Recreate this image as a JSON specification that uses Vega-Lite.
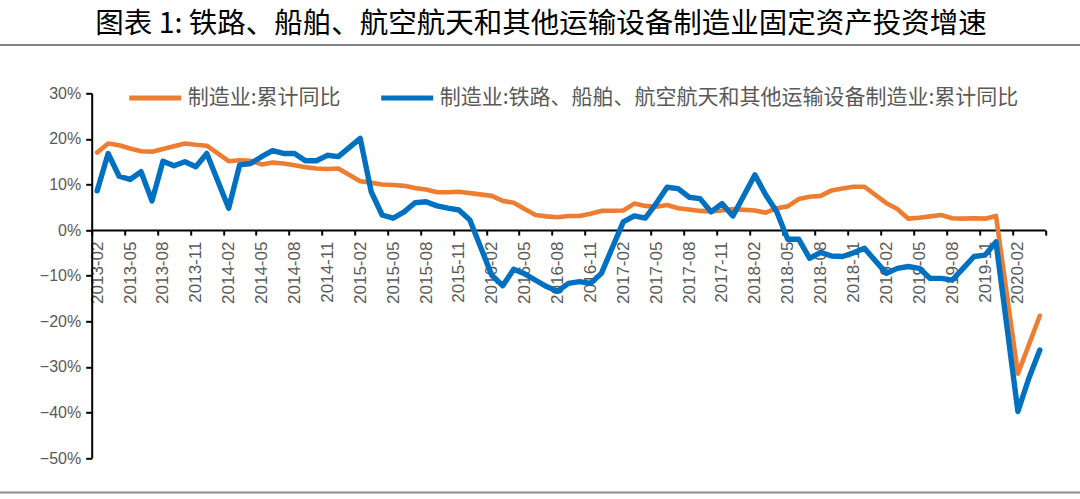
{
  "$schema": "https://vega.github.io/schema/vega-lite/v6.json",
  "width": 953.6,
  "height": 364.7,
  "autosize": "none",
  "padding": {"left": 91.7, "top": 93.3, "right": 34.7, "bottom": 41},
  "background": "#ffffff",
  "title": {
    "text": "图表 1: 铁路、船舶、航空航天和其他运输设备制造业固定资产投资增速",
    "font": "Noto Sans CJK SC",
    "fontSize": 28.5,
    "fontWeight": 400,
    "color": "#000000",
    "anchor": "middle",
    "frame": "group",
    "baseline": "middle",
    "offset": -8,
    "dx": -27.5
  },
  "config": {
    "view": {"stroke": null},
    "axis": {"grid": false, "title": null}
  },
  "data": {
    "values": [
      {"month": "2013-02", "manufacturing": 17.0, "transport": 8.6},
      {"month": "2013-03", "manufacturing": 19.0, "transport": 16.8},
      {"month": "2013-04", "manufacturing": 18.6, "transport": 11.8},
      {"month": "2013-05", "manufacturing": 17.9, "transport": 11.1},
      {"month": "2013-06", "manufacturing": 17.3, "transport": 12.8},
      {"month": "2013-07", "manufacturing": 17.2, "transport": 6.4},
      {"month": "2013-08", "manufacturing": 17.8, "transport": 15.1},
      {"month": "2013-09", "manufacturing": 18.4, "transport": 14.1},
      {"month": "2013-10", "manufacturing": 19.0, "transport": 15.0},
      {"month": "2013-11", "manufacturing": 18.7, "transport": 13.9},
      {"month": "2013-12", "manufacturing": 18.5, "transport": 16.8},
      {"month": "2014-02", "manufacturing": 15.1, "transport": 4.8},
      {"month": "2014-03", "manufacturing": 15.3, "transport": 14.3},
      {"month": "2014-04", "manufacturing": 15.2, "transport": 14.6},
      {"month": "2014-05", "manufacturing": 14.4, "transport": 16.1},
      {"month": "2014-06", "manufacturing": 14.8, "transport": 17.4},
      {"month": "2014-07", "manufacturing": 14.6, "transport": 16.8},
      {"month": "2014-08", "manufacturing": 14.2, "transport": 16.8},
      {"month": "2014-09", "manufacturing": 13.8, "transport": 15.2},
      {"month": "2014-10", "manufacturing": 13.5, "transport": 15.2},
      {"month": "2014-11", "manufacturing": 13.4, "transport": 16.4},
      {"month": "2014-12", "manufacturing": 13.5, "transport": 16.1},
      {"month": "2015-02", "manufacturing": 10.7, "transport": 20.1},
      {"month": "2015-03", "manufacturing": 10.4, "transport": 8.4},
      {"month": "2015-04", "manufacturing": 10.0, "transport": 3.3},
      {"month": "2015-05", "manufacturing": 9.9, "transport": 2.6},
      {"month": "2015-06", "manufacturing": 9.7, "transport": 4.0},
      {"month": "2015-07", "manufacturing": 9.2, "transport": 6.0},
      {"month": "2015-08", "manufacturing": 8.9, "transport": 6.2},
      {"month": "2015-09", "manufacturing": 8.3, "transport": 5.3},
      {"month": "2015-10", "manufacturing": 8.3, "transport": 4.8},
      {"month": "2015-11", "manufacturing": 8.4, "transport": 4.4},
      {"month": "2015-12", "manufacturing": 8.1, "transport": 2.2},
      {"month": "2016-02", "manufacturing": 7.5, "transport": -9.9},
      {"month": "2016-03", "manufacturing": 6.4, "transport": -12.2},
      {"month": "2016-04", "manufacturing": 6.0, "transport": -8.6},
      {"month": "2016-05", "manufacturing": 4.6, "transport": -9.6},
      {"month": "2016-06", "manufacturing": 3.3, "transport": -11.0},
      {"month": "2016-07", "manufacturing": 3.0, "transport": -12.4},
      {"month": "2016-08", "manufacturing": 2.8, "transport": -13.4},
      {"month": "2016-09", "manufacturing": 3.1, "transport": -11.7},
      {"month": "2016-10", "manufacturing": 3.1, "transport": -11.3},
      {"month": "2016-11", "manufacturing": 3.6, "transport": -11.7},
      {"month": "2016-12", "manufacturing": 4.2, "transport": -9.5},
      {"month": "2017-02", "manufacturing": 4.3, "transport": 1.8},
      {"month": "2017-03", "manufacturing": 5.8, "transport": 3.1},
      {"month": "2017-04", "manufacturing": 5.3, "transport": 2.6},
      {"month": "2017-05", "manufacturing": 5.1, "transport": 5.8},
      {"month": "2017-06", "manufacturing": 5.5, "transport": 9.4},
      {"month": "2017-07", "manufacturing": 4.8, "transport": 9.1},
      {"month": "2017-08", "manufacturing": 4.5, "transport": 7.2},
      {"month": "2017-09", "manufacturing": 4.2, "transport": 6.9},
      {"month": "2017-10", "manufacturing": 4.1, "transport": 4.0},
      {"month": "2017-11", "manufacturing": 4.3, "transport": 5.8},
      {"month": "2017-12", "manufacturing": 4.6, "transport": 3.1},
      {"month": "2018-02", "manufacturing": 4.3, "transport": 12.1},
      {"month": "2018-03", "manufacturing": 3.8, "transport": 7.7},
      {"month": "2018-04", "manufacturing": 4.8, "transport": 4.0},
      {"month": "2018-05", "manufacturing": 5.2, "transport": -2.0},
      {"month": "2018-06", "manufacturing": 6.8, "transport": -2.0},
      {"month": "2018-07", "manufacturing": 7.3, "transport": -6.2},
      {"month": "2018-08", "manufacturing": 7.5, "transport": -4.9},
      {"month": "2018-09", "manufacturing": 8.7, "transport": -5.7},
      {"month": "2018-10", "manufacturing": 9.1, "transport": -5.8},
      {"month": "2018-11", "manufacturing": 9.5, "transport": -5.0},
      {"month": "2018-12", "manufacturing": 9.5, "transport": -4.0},
      {"month": "2019-02", "manufacturing": 5.9, "transport": -9.5},
      {"month": "2019-03", "manufacturing": 4.6, "transport": -8.4},
      {"month": "2019-04", "manufacturing": 2.5, "transport": -8.0},
      {"month": "2019-05", "manufacturing": 2.7, "transport": -8.4},
      {"month": "2019-06", "manufacturing": 3.0, "transport": -10.6},
      {"month": "2019-07", "manufacturing": 3.3, "transport": -10.6},
      {"month": "2019-08", "manufacturing": 2.6, "transport": -11.0},
      {"month": "2019-09", "manufacturing": 2.5, "transport": -8.4},
      {"month": "2019-10", "manufacturing": 2.6, "transport": -5.8},
      {"month": "2019-11", "manufacturing": 2.5, "transport": -5.5},
      {"month": "2019-12", "manufacturing": 3.1, "transport": -2.6},
      {"month": "2020-02", "manufacturing": -31.5, "transport": -39.8},
      {"month": "2020-03", "manufacturing": -25.2, "transport": -32.5},
      {"month": "2020-04", "manufacturing": -18.8, "transport": -26.3}
    ]
  },
  "transform": [{"fold": ["manufacturing", "transport"], "as": ["series", "value"]}],
  "encoding": {
    "x": {
      "field": "month",
      "type": "ordinal",
      "scale": {
        "type": "point",
        "padding": 0.5,
        "domain": [
          "2013-02","2013-03","2013-04","2013-05","2013-06","2013-07","2013-08","2013-09","2013-10","2013-11","2013-12",
          "2014-01","2014-02","2014-03","2014-04","2014-05","2014-06","2014-07","2014-08","2014-09","2014-10","2014-11","2014-12",
          "2015-01","2015-02","2015-03","2015-04","2015-05","2015-06","2015-07","2015-08","2015-09","2015-10","2015-11","2015-12",
          "2016-01","2016-02","2016-03","2016-04","2016-05","2016-06","2016-07","2016-08","2016-09","2016-10","2016-11","2016-12",
          "2017-01","2017-02","2017-03","2017-04","2017-05","2017-06","2017-07","2017-08","2017-09","2017-10","2017-11","2017-12",
          "2018-01","2018-02","2018-03","2018-04","2018-05","2018-06","2018-07","2018-08","2018-09","2018-10","2018-11","2018-12",
          "2019-01","2019-02","2019-03","2019-04","2019-05","2019-06","2019-07","2019-08","2019-09","2019-10","2019-11","2019-12",
          "2020-01","2020-02","2020-03","2020-04"
        ]
      }
    },
    "y": {
      "field": "value",
      "type": "quantitative",
      "scale": {"domain": [-50, 30], "nice": false},
      "axis": {
        "values": [-50, -40, -30, -20, -10, 0, 10, 20, 30],
        "format": "d",
        "labelExpr": "datum.label + '%'",
        "labelFont": "Liberation Sans",
        "labelFontSize": 16,
        "labelColor": "#595959",
        "labelPadding": 5,
        "tickSize": 6,
        "tickWidth": 2,
        "tickColor": "#000000",
        "domainColor": "#000000",
        "domainWidth": 2
      }
    }
  },
  "layer": [
    {
      "transform": [{"filter": "datum.series === 'manufacturing'"}],
      "mark": {"type": "line", "strokeWidth": 4.6, "strokeJoin": "round", "strokeCap": "round"},
      "encoding": {
        "x": {
          "field": "month",
          "type": "ordinal",
          "axis": {
            "orient": "bottom",
            "offset": -227.94,
            "values": [
              "2013-02","2013-05","2013-08","2013-11",
              "2014-02","2014-05","2014-08","2014-11",
              "2015-02","2015-05","2015-08","2015-11",
              "2016-02","2016-05","2016-08","2016-11",
              "2017-02","2017-05","2017-08","2017-11",
              "2018-02","2018-05","2018-08","2018-11",
              "2019-02","2019-05","2019-08","2019-11",
              "2020-02"
            ],
            "tickOffset": -5.48,
            "labelOffset": 5.48,
            "labelAngle": -90,
            "labelAlign": "right",
            "labelBaseline": "middle",
            "labelFont": "Liberation Sans",
            "labelFontSize": 17,
            "labelColor": "#595959",
            "labelPadding": 6,
            "labelOverlap": false,
            "tickSize": 5,
            "tickWidth": 2,
            "tickColor": "#000000",
            "domainColor": "#000000",
            "domainWidth": 2
          }
        },
        "color": {
          "field": "series",
          "type": "nominal",
          "scale": {"domain": ["manufacturing", "transport"], "range": ["#ED7D31", "#0070C0"]},
          "legend": {
            "orient": "none",
            "direction": "horizontal",
            "legendX": 35,
            "legendY": -24,
            "title": null,
            "symbolType": "stroke",
            "symbolSize": 2700,
            "symbolStrokeWidth": 5,
            "labelFont": "Noto Sans CJK SC",
            "labelFontSize": 21,
            "labelColor": "#595959",
            "labelLimit": 1000,
            "labelOffset": 4,
            "columnPadding": 30,
            "labelExpr": "datum.value === 'manufacturing' ? '制造业:累计同比' : '制造业:铁路、船舶、航空航天和其他运输设备制造业:累计同比'"
          }
        }
      }
    },
    {
      "transform": [{"filter": "datum.series === 'transport'"}],
      "mark": {"type": "line", "strokeWidth": 5.4, "strokeJoin": "round", "strokeCap": "round"},
      "encoding": {
        "x": {"field": "month", "type": "ordinal", "axis": null},
        "color": {"field": "series", "type": "nominal"}
      }
    },
    {
      "transform": [{"filter": "datum.series === 'manufacturing'"}],
      "mark": {"type": "line", "strokeOpacity": 0},
      "encoding": {
        "x": {
          "field": "month",
          "type": "ordinal",
          "axis": {
            "orient": "bottom",
            "offset": -227.94,
            "values": ["2020-04"],
            "tickOffset": 5.48,
            "labels": false,
            "domain": false,
            "tickSize": 5,
            "tickWidth": 2,
            "tickColor": "#000000"
          }
        }
      }
    },
    {
      "data": {"values": [{"edge": "top"}]},
      "mark": {"type": "rule", "stroke": "#7f7f7f", "strokeWidth": 2},
      "encoding": {"x": {"value": -91.7}, "x2": {"value": 988.3}, "y": {"value": -48.3}}
    },
    {
      "data": {"values": [{"edge": "bottom"}]},
      "mark": {"type": "rule", "stroke": "#8c8c8c", "strokeWidth": 2},
      "encoding": {"x": {"value": -91.7}, "x2": {"value": 988.3}, "y": {"value": 399.3}}
    }
  ],
  "resolve": {"axis": {"x": "independent"}}
}
